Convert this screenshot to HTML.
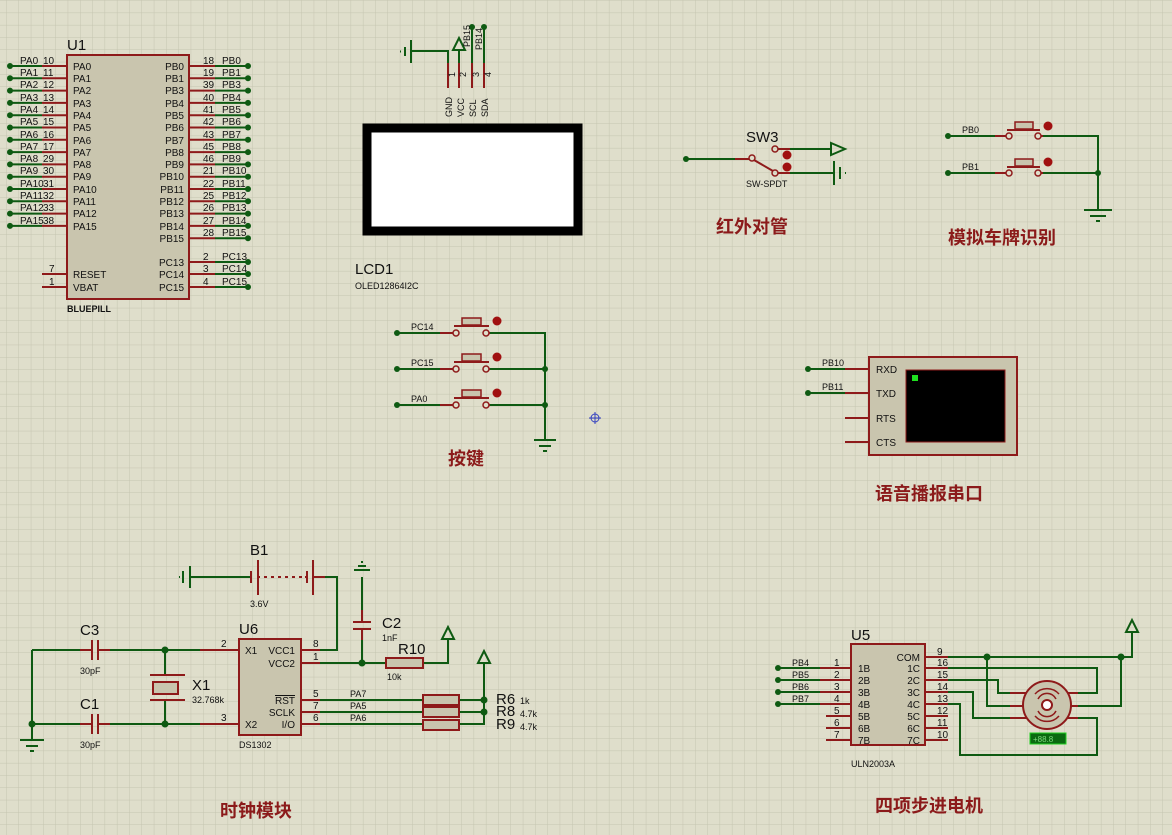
<!DOCTYPE html>
<html><head><meta charset="utf-8"><style>
html,body{margin:0;padding:0;background:#dfdecb;}
svg{display:block;font-family:"Liberation Sans","Noto Sans CJK SC",sans-serif;}
.g{stroke:#0e5a12;stroke-width:2;fill:none}
.r{stroke:#8e1a1a;stroke-width:2;fill:none}
.t{font-size:10px;fill:#111}
.s{font-size:9px;fill:#111}
.L{font-size:15px;fill:#111}
.cn{font-size:18px;fill:#8b1a1a;font-weight:bold}
.box{fill:#c9c5ae;stroke:#8e1a1a;stroke-width:2}
.d{fill:#0e5a12}
</style></head><body>
<svg width="1172" height="835" viewBox="0 0 1172 835" xmlns="http://www.w3.org/2000/svg">
<defs><pattern id="gr" x="6.7" y="0.8" width="12.3" height="12.3" patternUnits="userSpaceOnUse"><path d="M12.3 0V12.3M0 12.3H12.3" stroke="#c5c5b0" stroke-width="1" fill="none"/></pattern></defs>
<rect width="1172" height="835" fill="#dfdecb"/>
<rect width="1172" height="835" fill="url(#gr)"/>

<!-- U1 -->
<text x="67" y="50" class="L">U1</text>
<rect x="67" y="55" width="122" height="244" class="box"/>
<text x="67" y="312" class="s" font-weight="bold" fill="#333">BLUEPILL</text>
<g id="lp">
<!-- left pins -->
<g class="t">
<path class="g" d="M10 66H42M10 78.3H42M10 90.6H42M10 102.9H42M10 115.2H42M10 127.5H42M10 139.8H42M10 152.1H42M10 164.4H42M10 176.7H42M10 189H42M10 201.3H42M10 213.6H42M10 225.9H42"/>
<path class="r" d="M42 66H67M42 78.3H67M42 90.6H67M42 102.9H67M42 115.2H67M42 127.5H67M42 139.8H67M42 152.1H67M42 164.4H67M42 176.7H67M42 189H67M42 201.3H67M42 213.6H67M42 225.9H67M42 274H67M42 287H67"/>
<g class="d"><circle cx="10" cy="66" r="3"/><circle cx="10" cy="78.3" r="3"/><circle cx="10" cy="90.6" r="3"/><circle cx="10" cy="102.9" r="3"/><circle cx="10" cy="115.2" r="3"/><circle cx="10" cy="127.5" r="3"/><circle cx="10" cy="139.8" r="3"/><circle cx="10" cy="152.1" r="3"/><circle cx="10" cy="164.4" r="3"/><circle cx="10" cy="176.7" r="3"/><circle cx="10" cy="189" r="3"/><circle cx="10" cy="201.3" r="3"/><circle cx="10" cy="213.6" r="3"/><circle cx="10" cy="225.9" r="3"/></g>
<text x="20" y="64">PA0</text><text x="43" y="64">10</text>
<text x="20" y="76">PA1</text><text x="43" y="76">11</text>
<text x="20" y="88">PA2</text><text x="43" y="88">12</text>
<text x="20" y="101">PA3</text><text x="43" y="101">13</text>
<text x="20" y="113">PA4</text><text x="43" y="113">14</text>
<text x="20" y="125">PA5</text><text x="43" y="125">15</text>
<text x="20" y="138">PA6</text><text x="43" y="138">16</text>
<text x="20" y="150">PA7</text><text x="43" y="150">17</text>
<text x="20" y="162">PA8</text><text x="43" y="162">29</text>
<text x="20" y="174">PA9</text><text x="43" y="174">30</text>
<text x="20" y="187">PA10</text><text x="43" y="187">31</text>
<text x="20" y="199">PA11</text><text x="43" y="199">32</text>
<text x="20" y="211">PA12</text><text x="43" y="211">33</text>
<text x="20" y="224">PA15</text><text x="43" y="224">38</text>
<text x="49" y="272">7</text><text x="49" y="285">1</text>
<text x="73" y="70">PA0</text><text x="73" y="82">PA1</text><text x="73" y="94">PA2</text><text x="73" y="107">PA3</text><text x="73" y="119">PA4</text><text x="73" y="131">PA5</text><text x="73" y="144">PA6</text><text x="73" y="156">PA7</text><text x="73" y="168">PA8</text><text x="73" y="180">PA9</text><text x="73" y="193">PA10</text><text x="73" y="205">PA11</text><text x="73" y="217">PA12</text><text x="73" y="230">PA15</text>
<text x="73" y="278">RESET</text><text x="73" y="291">VBAT</text>
</g>
<!-- right pins -->
<g class="t">
<path class="r" d="M189 66H215M189 78.3H215M189 90.6H215M189 102.9H215M189 115.2H215M189 127.5H215M189 139.8H215M189 152.1H215M189 164.4H215M189 176.7H215M189 189H215M189 201.3H215M189 213.6H215M189 225.9H215M189 238.2H215M189 262H215M189 274H215M189 287H215"/>
<path class="g" d="M215 66H248M215 78.3H248M215 90.6H248M215 102.9H248M215 115.2H248M215 127.5H248M215 139.8H248M215 152.1H248M215 164.4H248M215 176.7H248M215 189H248M215 201.3H248M215 213.6H248M215 225.9H248M215 238.2H248M215 262H248M215 274H248M215 287H248"/>
<g class="d"><circle cx="248" cy="66" r="3"/><circle cx="248" cy="78.3" r="3"/><circle cx="248" cy="90.6" r="3"/><circle cx="248" cy="102.9" r="3"/><circle cx="248" cy="115.2" r="3"/><circle cx="248" cy="127.5" r="3"/><circle cx="248" cy="139.8" r="3"/><circle cx="248" cy="152.1" r="3"/><circle cx="248" cy="164.4" r="3"/><circle cx="248" cy="176.7" r="3"/><circle cx="248" cy="189" r="3"/><circle cx="248" cy="201.3" r="3"/><circle cx="248" cy="213.6" r="3"/><circle cx="248" cy="225.9" r="3"/><circle cx="248" cy="238.2" r="3"/><circle cx="248" cy="262" r="3"/><circle cx="248" cy="274" r="3"/><circle cx="248" cy="287" r="3"/></g>
<text x="203" y="64">18</text><text x="222" y="64">PB0</text>
<text x="203" y="76">19</text><text x="222" y="76">PB1</text>
<text x="203" y="88">39</text><text x="222" y="88">PB3</text>
<text x="203" y="101">40</text><text x="222" y="101">PB4</text>
<text x="203" y="113">41</text><text x="222" y="113">PB5</text>
<text x="203" y="125">42</text><text x="222" y="125">PB6</text>
<text x="203" y="138">43</text><text x="222" y="138">PB7</text>
<text x="203" y="150">45</text><text x="222" y="150">PB8</text>
<text x="203" y="162">46</text><text x="222" y="162">PB9</text>
<text x="203" y="174">21</text><text x="222" y="174">PB10</text>
<text x="203" y="187">22</text><text x="222" y="187">PB11</text>
<text x="203" y="199">25</text><text x="222" y="199">PB12</text>
<text x="203" y="211">26</text><text x="222" y="211">PB13</text>
<text x="203" y="224">27</text><text x="222" y="224">PB14</text>
<text x="203" y="236">28</text><text x="222" y="236">PB15</text>
<text x="203" y="260">2</text><text x="222" y="260">PC13</text>
<text x="203" y="272">3</text><text x="222" y="272">PC14</text>
<text x="203" y="285">4</text><text x="222" y="285">PC15</text>
<g text-anchor="end"><text x="184" y="70">PB0</text><text x="184" y="82">PB1</text><text x="184" y="94">PB3</text><text x="184" y="107">PB4</text><text x="184" y="119">PB5</text><text x="184" y="131">PB6</text><text x="184" y="144">PB7</text><text x="184" y="156">PB8</text><text x="184" y="168">PB9</text><text x="184" y="180">PB10</text><text x="184" y="193">PB11</text><text x="184" y="205">PB12</text><text x="184" y="217">PB13</text><text x="184" y="230">PB14</text><text x="184" y="242">PB15</text><text x="184" y="266">PC13</text><text x="184" y="278">PC14</text><text x="184" y="291">PC15</text></g>
</g>
</g>

<!-- LCD -->
<rect x="367" y="128" width="211" height="103" fill="#fff" stroke="#000" stroke-width="9"/>
<path class="r" d="M448 63V88M459 63V88M472 63V88M484 63V88"/>
<path class="g" d="M448 63V51H411M459 63V50M472 63V27M484 63V27"/>
<path class="g" d="M411 40V63M405 47V56M400 51.5H401"/>
<path class="g" d="M453 50H465L459 38Z"/>
<circle cx="472" cy="27" r="3" class="d"/><circle cx="484" cy="27" r="3" class="d"/>
<g class="s">
<text transform="translate(470,47) rotate(-90)">PB15</text>
<text transform="translate(482,50) rotate(-90)">PB14</text>
<text transform="translate(455,77) rotate(-90)">1</text><text transform="translate(466,77) rotate(-90)">2</text><text transform="translate(479,77) rotate(-90)">3</text><text transform="translate(491,77) rotate(-90)">4</text>
<text transform="translate(452,117) rotate(-90)">GND</text><text transform="translate(464,117) rotate(-90)">VCC</text><text transform="translate(476,117) rotate(-90)">SCL</text><text transform="translate(488,117) rotate(-90)">SDA</text>
</g>
<text x="355" y="274" class="L">LCD1</text>
<text x="355" y="289" class="s">OLED12864I2C</text>

<!-- SW3 -->
<path class="g" d="M686 159H735"/><circle cx="686" cy="159" r="3" class="d"/>
<path class="r" d="M735 159H749"/>
<circle cx="752" cy="158" r="3" fill="none" stroke="#8e1a1a" stroke-width="1.5"/>
<path class="r" d="M754 160L773 171"/>
<circle cx="775" cy="149" r="3" fill="none" stroke="#8e1a1a" stroke-width="1.5"/>
<circle cx="775" cy="173" r="3" fill="none" stroke="#8e1a1a" stroke-width="1.5"/>
<path class="r" d="M778 149H790M778 173H790"/>
<circle cx="787" cy="155" r="4.5" fill="#a01010"/><circle cx="787" cy="167" r="4.5" fill="#a01010"/>
<path class="g" d="M790 149H831M790 173H834M834 161V185M840 167V179M845 173H846"/>
<path class="g" d="M831 143V155L845 149Z"/>
<text x="746" y="142" class="L">SW3</text>
<text x="746" y="187" class="s">SW-SPDT</text>
<text x="716" y="233" class="cn">红外对管</text>

<!-- 模拟车牌识别 -->
<g>
<path class="g" d="M948 136H995M948 173H995M1043 136H1098V210M1043 173H1098M1084 210H1112M1090 216H1106M1096 221H1100"/>
<circle cx="948" cy="136" r="3" class="d"/><circle cx="948" cy="173" r="3" class="d"/><circle cx="1098" cy="173" r="3" class="d"/>
<path class="r" d="M995 136H1006M995 173H1006M1036 136H1043M1036 173H1043M1007 130H1040M1007 167H1040"/>
<rect x="1015" y="122" width="18" height="7" fill="#c9c5ae" stroke="#8e1a1a" stroke-width="1.5"/>
<rect x="1015" y="159" width="18" height="7" fill="#c9c5ae" stroke="#8e1a1a" stroke-width="1.5"/>
<circle cx="1009" cy="136" r="3" fill="#dfdecb" stroke="#8e1a1a" stroke-width="1.5"/><circle cx="1038" cy="136" r="3" fill="#dfdecb" stroke="#8e1a1a" stroke-width="1.5"/>
<circle cx="1009" cy="173" r="3" fill="#dfdecb" stroke="#8e1a1a" stroke-width="1.5"/><circle cx="1038" cy="173" r="3" fill="#dfdecb" stroke="#8e1a1a" stroke-width="1.5"/>
<circle cx="1048" cy="126" r="4.5" fill="#a01010"/><circle cx="1048" cy="162" r="4.5" fill="#a01010"/>
<text x="962" y="133" class="s">PB0</text><text x="962" y="170" class="s">PB1</text>
</g>
<text x="948" y="244" class="cn">模拟车牌识别</text>

<!-- 按键 -->
<g>
<path class="g" d="M397 333H440M397 369H440M397 405H440M490 333H545V440M490 369H545M490 405H545M534 440H556M539 446H551M543 451H547"/>
<circle cx="397" cy="333" r="3" class="d"/><circle cx="397" cy="369" r="3" class="d"/><circle cx="397" cy="405" r="3" class="d"/>
<circle cx="545" cy="369" r="3" class="d"/><circle cx="545" cy="405" r="3" class="d"/>
<path class="r" d="M440 333H453M440 369H453M440 405H453M484 333H490M484 369H490M484 405H490M454 326H489M454 362H489M454 398H489"/>
<rect x="462" y="318" width="19" height="7" fill="#c9c5ae" stroke="#8e1a1a" stroke-width="1.5"/>
<rect x="462" y="354" width="19" height="7" fill="#c9c5ae" stroke="#8e1a1a" stroke-width="1.5"/>
<rect x="462" y="390" width="19" height="7" fill="#c9c5ae" stroke="#8e1a1a" stroke-width="1.5"/>
<circle cx="456" cy="333" r="3" fill="#dfdecb" stroke="#8e1a1a" stroke-width="1.5"/><circle cx="486" cy="333" r="3" fill="#dfdecb" stroke="#8e1a1a" stroke-width="1.5"/>
<circle cx="456" cy="369" r="3" fill="#dfdecb" stroke="#8e1a1a" stroke-width="1.5"/><circle cx="486" cy="369" r="3" fill="#dfdecb" stroke="#8e1a1a" stroke-width="1.5"/>
<circle cx="456" cy="405" r="3" fill="#dfdecb" stroke="#8e1a1a" stroke-width="1.5"/><circle cx="486" cy="405" r="3" fill="#dfdecb" stroke="#8e1a1a" stroke-width="1.5"/>
<circle cx="497" cy="321" r="4.5" fill="#a01010"/><circle cx="497" cy="357" r="4.5" fill="#a01010"/><circle cx="497" cy="393" r="4.5" fill="#a01010"/>
<text x="411" y="330" class="s">PC14</text><text x="411" y="366" class="s">PC15</text><text x="411" y="402" class="s">PA0</text>
</g>
<text x="448" y="465" class="cn">按键</text>
<g stroke="#3340c0" stroke-width="1" fill="none"><circle cx="595" cy="418" r="4"/><path d="M589 418H601M595 412V424"/></g>

<!-- terminal -->
<rect x="869" y="357" width="148" height="98" class="box"/>
<rect x="906" y="370" width="99" height="72" fill="#000" stroke="#8e1a1a" stroke-width="1"/>
<rect x="912" y="375" width="6" height="6" fill="#1fe01f"/>
<path class="g" d="M808 369H845M808 393H845"/>
<circle cx="808" cy="369" r="3" class="d"/><circle cx="808" cy="393" r="3" class="d"/>
<path class="r" d="M845 369H869M845 393H869M845 418H869M845 442H869"/>
<g class="t"><text x="876" y="373">RXD</text><text x="876" y="397">TXD</text><text x="876" y="422">RTS</text><text x="876" y="446">CTS</text>
<text x="822" y="366" class="s">PB10</text><text x="822" y="390" class="s">PB11</text></g>
<text x="875" y="500" class="cn">语音播报串口</text>

<!-- Clock module -->
<text x="250" y="555" class="L">B1</text>
<text x="250" y="607" class="s">3.6V</text>
<path class="g" d="M179 577H180M183 571V583M190 566V588M190 577H251"/>
<path class="r" d="M251 571V583M258 560V595M258 577H307" />
<path d="M260 577H305" stroke="#dfdecb" stroke-width="2" stroke-dasharray="4 3"/>
<path class="r" d="M307 571V583M313 560V595M313 577H325"/>
<path class="g" d="M325 577H337V650H320"/>
<!-- U6 -->
<text x="239" y="634" class="L">U6</text>
<rect x="239" y="639" width="62" height="96" class="box"/>
<text x="239" y="748" class="s">DS1302</text>
<path class="r" d="M200 650H239M200 724H239M301 650H320M301 663H320M301 700H320M301 712H320M301 724H320"/>
<g class="t">
<text x="221" y="647">2</text><text x="221" y="721">3</text>
<text x="313" y="647">8</text><text x="313" y="660">1</text><text x="313" y="697">5</text><text x="313" y="709">7</text><text x="313" y="721">6</text>
<text x="245" y="654">X1</text><text x="245" y="728">X2</text>
<g text-anchor="end"><text x="295" y="654">VCC1</text><text x="295" y="667">VCC2</text><text x="295" y="704" text-decoration="overline">RST</text><text x="295" y="716">SCLK</text><text x="295" y="728">I/O</text></g>
</g>
<!-- C3 C1 X1 -->
<path class="g" d="M32 650H80M110 650H200M32 650V740M32 724H80M110 724H200M165 650V675M165 700V724M20 740H44M26 746H38M30 751H34"/>
<path class="r" d="M80 650H92M98 650H110M92 640V660M98 640V660M80 724H92M98 724H110M92 714V734M98 714V734M150 675H185M150 700H185"/>
<rect x="153" y="682" width="25" height="12" fill="#c9c5ae" stroke="#8e1a1a" stroke-width="2"/>
<circle cx="32" cy="724" r="3.5" class="d"/><circle cx="165" cy="650" r="3.5" class="d"/><circle cx="165" cy="724" r="3.5" class="d"/>
<text x="80" y="635" class="L">C3</text><text x="80" y="674" class="s">30pF</text>
<text x="80" y="709" class="L">C1</text><text x="80" y="748" class="s">30pF</text>
<text x="192" y="690" class="L">X1</text><text x="192" y="703" class="s">32.768k</text>
<!-- C2 R10 -->
<path class="g" d="M320 663H386M423 663H448V639M362 663V640M362 577V610M354 570H370M358 566H366M361 562H363"/>
<path class="r" d="M362 610V622M362 629V640M353 622H371M353 629H371"/>
<path class="g" d="M442 639H454L448 627Z"/>
<circle cx="362" cy="663" r="3.5" class="d"/>
<rect x="386" y="658" width="37" height="10" class="box"/>
<text x="382" y="628" class="L">C2</text><text x="382" y="641" class="s">1nF</text>
<text x="398" y="654" class="L">R10</text><text x="387" y="680" class="s">10k</text>
<!-- R6 R8 R9 -->
<path class="g" d="M320 700H423M320 712H423M320 724H423M459 700H484M459 712H484M459 724H484V663"/>
<path class="g" d="M478 663H490L484 651Z"/>
<rect x="423" y="695" width="36" height="10" class="box"/>
<rect x="423" y="707" width="36" height="10" class="box"/>
<rect x="423" y="720" width="36" height="10" class="box"/>
<circle cx="484" cy="700" r="3.5" class="d"/><circle cx="484" cy="712" r="3.5" class="d"/>
<g class="s"><text x="350" y="697">PA7</text><text x="350" y="709">PA5</text><text x="350" y="721">PA6</text>
<text x="520" y="704">1k</text><text x="520" y="717">4.7k</text><text x="520" y="730">4.7k</text></g>
<g class="L"><text x="496" y="704">R6</text><text x="496" y="716">R8</text><text x="496" y="729">R9</text></g>
<text x="220" y="817" class="cn">时钟模块</text>

<!-- U5 -->
<text x="851" y="640" class="L">U5</text>
<rect x="851" y="644" width="74" height="101" class="box"/>
<text x="851" y="767" class="s">ULN2003A</text>
<path class="g" d="M778 668H820M778 680H820M778 692H820M778 704H820"/>
<g class="d"><circle cx="778" cy="668" r="3"/><circle cx="778" cy="680" r="3"/><circle cx="778" cy="692" r="3"/><circle cx="778" cy="704" r="3"/></g>
<path class="r" d="M820 668H851M820 680H851M820 692H851M820 704H851M826 716H851M826 728H851M826 740H851M925 657H948M925 668H948M925 680H948M925 692H948M925 704H948M925 716H948M925 728H948M925 740H948"/>
<g class="t">
<text x="792" y="666" class="s">PB4</text><text x="792" y="678" class="s">PB5</text><text x="792" y="690" class="s">PB6</text><text x="792" y="702" class="s">PB7</text>
<text x="834" y="666">1</text><text x="834" y="678">2</text><text x="834" y="690">3</text><text x="834" y="702">4</text><text x="834" y="714">5</text><text x="834" y="726">6</text><text x="834" y="738">7</text>
<text x="858" y="672">1B</text><text x="858" y="684">2B</text><text x="858" y="696">3B</text><text x="858" y="708">4B</text><text x="858" y="720">5B</text><text x="858" y="732">6B</text><text x="858" y="744">7B</text>
<g text-anchor="end"><text x="920" y="661">COM</text><text x="920" y="672">1C</text><text x="920" y="684">2C</text><text x="920" y="696">3C</text><text x="920" y="708">4C</text><text x="920" y="720">5C</text><text x="920" y="732">6C</text><text x="920" y="744">7C</text></g>
<text x="937" y="655">9</text><text x="937" y="666">16</text><text x="937" y="678">15</text><text x="937" y="690">14</text><text x="937" y="702">13</text><text x="937" y="714">12</text><text x="937" y="726">11</text><text x="937" y="738">10</text>
</g>
<!-- motor wiring -->
<path class="g" d="M948 657H1132V632M987 657V706H1010M948 668H1097V693H1078M948 680H998V693H1010M948 692H973V718H1010M948 704H960V755H1097V718H1078M1078 706H1121V657"/>
<path class="g" d="M1126 632H1138L1132 620Z"/>
<circle cx="987" cy="657" r="3.5" class="d"/><circle cx="1121" cy="657" r="3.5" class="d"/>
<path class="r" d="M1010 693H1028M1010 706H1028M1010 718H1028M1066 693H1078M1066 706H1078M1066 718H1078"/>
<circle cx="1047" cy="705" r="24" fill="#c9c5ae" stroke="#8e1a1a" stroke-width="2"/>
<path d="M1035 694A16 16 0 0 1 1059 694M1038 699A10 10 0 0 1 1056 699M1035 716A16 16 0 0 0 1059 716M1038 711A10 10 0 0 0 1056 711" stroke="#8e1a1a" stroke-width="1.5" fill="none"/>
<circle cx="1047" cy="705" r="5" fill="#fff" stroke="#8e1a1a" stroke-width="2"/>
<rect x="1030" y="733" width="36" height="11" fill="#0a6a10" stroke="#1fd01f" stroke-width="1"/>
<text x="1033" y="742" font-size="8" fill="#7fdc7f">+88.8</text>
<text x="875" y="812" class="cn">四项步进电机</text>
</svg>
</body></html>
